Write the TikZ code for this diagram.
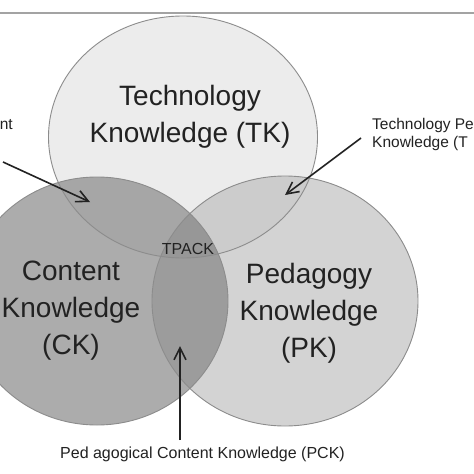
\documentclass[tikz,border=0pt]{standalone}
\usepackage{fontspec}
\setmainfont{Liberation Sans}
\usetikzlibrary{arrows.meta}
\definecolor{tkfill}{HTML}{ECECEC}
\definecolor{ckfill}{HTML}{ACACAC}
\definecolor{pkfill}{HTML}{D3D3D3}
\definecolor{tkck}{HTML}{A6A6A6}
\definecolor{tkpk}{HTML}{CCCCCC}
\definecolor{ckpk}{HTML}{9C9C9C}
\definecolor{allthree}{HTML}{979797}
\definecolor{rim}{HTML}{8C8C8C}
\definecolor{ink}{HTML}{222222}
\tikzset{
  bigtext/.style={font=\fontsize{28}{37}\selectfont, text=ink, align=center, inner sep=0pt},
  smalltext/.style={font=\fontsize{15.5}{18}\selectfont, text=ink, align=left, inner sep=0pt},
  midtext/.style={font=\fontsize{16}{19}\selectfont, text=ink, inner sep=0pt},
  pointer/.style={draw=ink, line width=1.6pt, -{Straight Barb[length=12pt,width=12pt,line width=1.6pt]}},
  rimline/.style={draw=rim, line width=0.9pt}
}
\def\TKpath{(183,137) ellipse [x radius=134.5pt, y radius=121pt]}
\def\CKpath{(97,301) ellipse [x radius=131pt, y radius=124pt]}
\def\PKpath{(285,301) ellipse [x radius=133pt, y radius=125pt]}
\begin{document}
\begin{tikzpicture}[x=1pt,y=-1pt]
\useasboundingbox (0,0) rectangle (474,474);
\fill[white] (0,0) rectangle (474,474);
\draw[draw=rim!80, line width=1.5pt] (0,13) -- (474,13);
% base fills
\fill[tkfill] \TKpath;
\fill[ckfill] \CKpath;
\fill[pkfill] \PKpath;
% pairwise overlaps
\begin{scope}\clip \CKpath; \fill[tkck] \TKpath; \end{scope}
\begin{scope}\clip \PKpath; \fill[tkpk] \TKpath; \end{scope}
\begin{scope}\clip \CKpath; \fill[ckpk] \PKpath; \end{scope}
\begin{scope}\clip \CKpath; \clip \PKpath; \fill[allthree] \TKpath; \end{scope}
% outlines
\draw[rimline] \TKpath;
\draw[rimline] \CKpath;
\draw[rimline] \PKpath;
% texts (base anchor = baseline of last line)
\node[bigtext, anchor=base] (tk) at (190,142) {Technology\\Knowledge (TK)};
\node[bigtext, anchor=base] (ck) at (71,354) {Content\\Knowledge\\(CK)};
\node[bigtext, anchor=base] (pk) at (309,357) {Pedagogy\\Knowledge\\(PK)};
\node[midtext, anchor=base] (tpack) at (188,254) {TPACK};
\node[midtext, anchor=base west] (pck) at (60,458) {Ped agogical Content Knowledge (PCK)};
\node[smalltext, anchor=base west] (tpk) at (372,147) {Technology Pe\\Knowledge (T};
\node[smalltext, anchor=base east] (tck) at (13,129) {nt};
% arrows
\coordinate (tckstart) at (3,162);
\coordinate (tcktip) at (90,202);
\coordinate (tpkstart) at (361,138);
\coordinate (tpktip) at (285,195);
\coordinate (pckstart) at (180,440);
\coordinate (pcktip) at (180,346);
\draw[pointer] (tckstart) -- (tcktip);
\draw[pointer] (tpkstart) -- (tpktip);
\draw[pointer] (pckstart) -- (pcktip);
\end{tikzpicture}
\end{document}
